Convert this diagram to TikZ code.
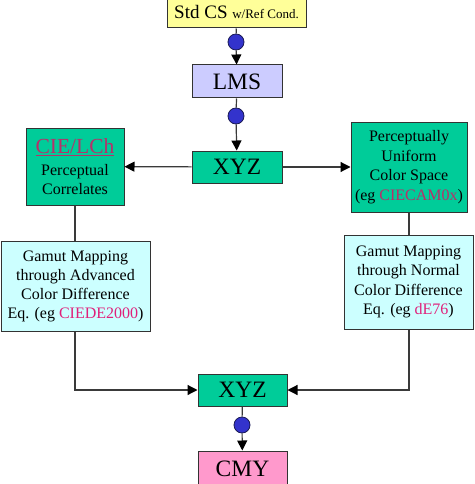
\documentclass[tikz,border=0pt]{standalone}
\usepackage{fontspec}
\setmainfont{Liberation Serif}
\usetikzlibrary{arrows.meta}

\definecolor{stdyellow}{HTML}{FFFF99}
\definecolor{lmsblue}{HTML}{CCCCFF}
\definecolor{xyzgreen}{HTML}{00CC99}
\definecolor{gamutcyan}{HTML}{CCFFFF}
\definecolor{cmypink}{HTML}{FF99CC}
\definecolor{dotblue}{HTML}{3333CC}
\definecolor{dotline}{HTML}{1A1A55}
\definecolor{boxline}{HTML}{333333}
\definecolor{linegray}{HTML}{3A3A3A}
\definecolor{cieRed}{HTML}{B8306A}
\definecolor{eqPink}{HTML}{E0207A}

\begin{document}
\begin{tikzpicture}[x=1pt,y=-1pt,
  box/.style={draw=boxline, line width=1pt, align=center, inner sep=0pt,
    font=\fontsize{16}{19}\selectfont},
  big/.style={font=\fontsize{23.5}{26}\selectfont},
  dot/.style={circle, draw=dotline, line width=0.8pt, fill=dotblue,
    minimum size=16pt, inner sep=0pt},
  link/.style={draw=linegray, line width=1.2pt},
  flow/.style={link, -{Triangle[length=10pt,width=10pt,color=black]}}]

\useasboundingbox (0,0) rectangle (474,484);

% source and first conversion
\node[box, fill=stdyellow, minimum width=139pt, minimum height=32pt] (std) at (236.5,12)
  {\fontsize{19}{22}\selectfont Std CS {\fontsize{13}{15}\selectfont w/Ref Cond.}};
\node[dot] (dot1) at (236,42) {};
\node[box, big, fill=lmsblue, minimum width=90pt, minimum height=33pt] (lms) at (237,81.5) {LMS};
\node[dot] (dot2) at (236,116) {};
\node[box, big, fill=xyzgreen, minimum width=90pt, minimum height=32pt] (xyz) at (237,167) {XYZ};

% side branches
\node[box, fill=xyzgreen, minimum width=98pt, minimum height=77pt] (cie) at (75,166.5)
  {{\fontsize{21.5}{24}\selectfont\textcolor{cieRed}{\underline{CIE/LCh}}}\\[3pt]
   Perceptual\\Correlates};
\node[box, fill=xyzgreen, minimum width=116pt, minimum height=90pt,
  font=\fontsize{16}{19.5}\selectfont] (ucs) at (409,167)
  {Perceptually\\Uniform\\Color Space\\(eg \textcolor{cieRed}{CIECAM0x})};

\node[box, fill=gamutcyan, minimum width=149pt, minimum height=90pt] (gmadv) at (75.5,286)
  {Gamut Mapping\\through Advanced\\Color Difference\\Eq. (eg \textcolor{eqPink}{CIEDE2000})};
\node[box, fill=gamutcyan, minimum width=129pt, minimum height=94pt,
  font=\fontsize{16}{19.5}\selectfont] (gmnorm) at (408.5,282)
  {Gamut Mapping\\through Normal\\Color Difference\\Eq. (eg \textcolor{eqPink}{dE76})};

% output
\node[box, big, fill=xyzgreen, minimum width=89pt, minimum height=32pt] (xyzout) at (242.5,390) {XYZ};
\node[dot] (dot3) at (242,425) {};
\node[box, big, fill=cmypink, minimum width=89pt, minimum height=36pt] (cmy) at (242.5,469) {CMY};

% connectors
\draw[link] (std) -- (dot1);
\draw[flow] (dot1) -- (lms);
\draw[link] (lms) -- (dot2);
\draw[flow] (dot2) -- (xyz);
\draw[flow] (xyz) -- (cie);
\draw[flow] (xyz) -- (ucs);
\draw[link] (cie) -- (cie |- gmadv.north);
\draw[link] (ucs) -- (ucs |- gmnorm.north);
\draw[flow] (gmadv.south -| cie) |- (xyzout.west);
\draw[flow] (gmnorm.south -| ucs) |- (xyzout.east);
\draw[link] (xyzout) -- (dot3);
\draw[flow] (dot3) -- (cmy);

\end{tikzpicture}
\end{document}
